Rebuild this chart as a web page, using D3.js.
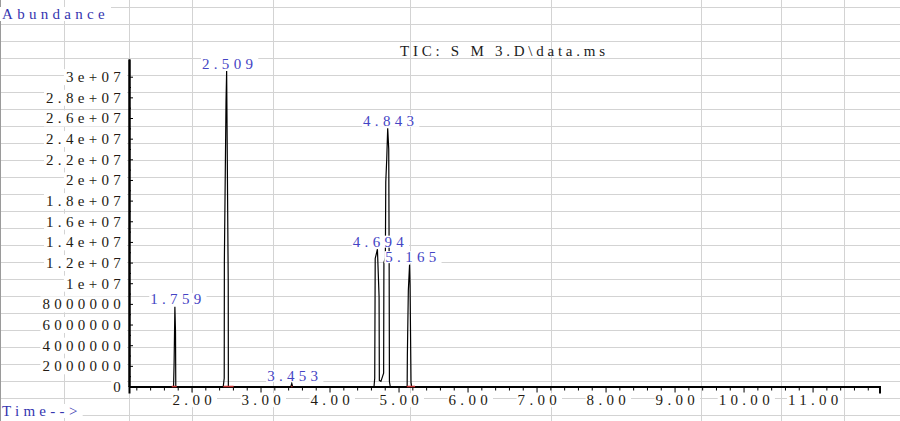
<!DOCTYPE html>
<html lang="en">
  <head>
    <meta charset="utf-8">
    <title>TIC chromatogram</title>
    <script src="https://cdn.jsdelivr.net/npm/d3@7"></script>
    <style>
      body { margin: 0; background: #fff; }
      svg#chart text {
        font-family: "Liberation Serif", "Times New Roman", Times, serif !important;
        font-size: 15px;
        letter-spacing: 4.3px;
      }
      .grid line { stroke: #d3d3d3; stroke-width: 1; }
      .axis path, .axis line { stroke: #000; }
      .axis path { stroke-width: 2; }
      .axis text { fill: #231a12; }
      .peak-label { fill: #4444c4; }
      .corner-label { fill: #3535b0; }
    </style>
  </head>
  <body>
    <svg id="chart" width="900" height="421" font-family="Liberation Serif"></svg>
    <script>
      // ---- data ----
      var traceTime = [1.094, 1.740, 1.748, 1.759, 1.768, 1.772,
                       2.460, 2.474, 2.476, 2.500, 2.509, 2.532, 2.534,
                       3.440, 3.453, 3.465,
                       4.645, 4.655, 4.662, 4.684, 4.694, 4.718, 4.722,
                       4.745, 4.784, 4.788, 4.809, 4.815, 4.829, 4.843, 4.858, 4.864, 4.868, 4.880,
                       5.125, 5.128, 5.142, 5.160, 5.167, 5.181, 5.190,
                       11.97];
      var traceAbund = [0, 0, 2400000, 7730000, 5300000, 0,
                        0, 800000, 12100000, 27600000, 30550000, 10000000, 0,
                        0, 300000, 0,
                        0, 800000, 12400000, 13000000, 13300000, 8700000, 600000,
                        500000, 1300000, 12000000, 12500000, 19800000, 22000000, 25000000, 23000000, 12000000, 460000, 0,
                        0, 3050000, 9300000, 11800000, 9800000, 400000, 0,
                        0];

      var peakTimes = [1.759, 2.509, 3.453, 4.694, 4.843, 5.165];
      var peakLabels = ["1.759", "2.509", "3.453", "4.694", "4.843", "5.165"];
      var integStart = [1.713, 2.460, 3.445, 5.120];
      var integEnd = [1.786, 2.610, 3.462, 5.240];

      var yTickValues = [0, 2000000, 4000000, 6000000, 8000000, 10000000, 12000000, 14000000,
                         16000000, 18000000, 20000000, 22000000, 24000000, 26000000, 28000000, 30000000];
      var yTickLabels = ["0", "2000000", "4000000", "6000000", "8000000", "1e+07", "1.2e+07", "1.4e+07",
                         "1.6e+07", "1.8e+07", "2e+07", "2.2e+07", "2.4e+07", "2.6e+07", "2.8e+07", "3e+07"];
      var xTickValues = [2, 3, 4, 5, 6, 7, 8, 9, 10, 11];
      var xTickLabels = ["2.00", "3.00", "4.00", "5.00", "6.00", "7.00", "8.00", "9.00", "10.00", "11.00"];

      var titleText = "TIC: S M 3.D\\data.ms";

      // ---- layout ----
      var width = 900, height = 421;
      var serif = "Liberation Serif";
      var svg = d3.select("#chart");

      var x = d3.scaleLinear().domain([1.094, 11.97]).range([129, 879.5]);
      var y = d3.scaleLinear().domain([0, 31714000]).range([386.5, 59]);

      // spreadsheet style grid in the background
      var gridCols = [64, 129, 192, 273, 410, 551, 701, 781, 844];
      var gridRows = d3.range(7.5, height, 17);
      var grid = svg.append("g").attr("class", "grid");
      grid.selectAll(".col").data(gridCols).enter().append("line")
          .attr("x1", function(d) { return d + 0.5; })
          .attr("x2", function(d) { return d + 0.5; })
          .attr("y1", 0).attr("y2", height);
      grid.selectAll(".row").data(gridRows).enter().append("line")
          .attr("x1", 0).attr("x2", width)
          .attr("y1", function(d) { return d; })
          .attr("y2", function(d) { return d; });
      svg.append("line")
          .attr("x1", 0.5).attr("x2", 0.5).attr("y1", 0).attr("y2", height)
          .attr("stroke", "#9a9a9a");

      // put a white box behind a text node
      function boxBehind(textNode, padX, padY) {
        var b = textNode.getBBox();
        d3.select(textNode.parentNode).insert("rect", function() { return textNode; })
            .attr("x", b.x - padX).attr("y", b.y - padY)
            .attr("width", b.width + 2 * padX).attr("height", b.height + 2 * padY)
            .attr("fill", "#fff");
      }

      // trace
      var points = traceTime.map(function(t, i) { return [t, traceAbund[i]]; });
      svg.append("path")
          .datum(points)
          .attr("fill", "none")
          .attr("stroke", "#000")
          .attr("stroke-width", 1.2)
          .attr("d", d3.line().x(function(d) { return x(d[0]); }).y(function(d) { return y(d[1]); }));

      // y axis: minor then major
      svg.append("g").attr("class", "axis")
          .attr("transform", "translate(129,0)")
          .call(d3.axisLeft(y).tickValues(d3.range(1000000, 31000000, 2000000))
                .tickSize(-2).tickSizeOuter(0).tickFormat(""));
      var yAxis = svg.append("g").attr("class", "axis")
          .attr("transform", "translate(129,0)")
          .call(d3.axisLeft(y).tickValues(yTickValues)
                .tickSize(-4).tickSizeOuter(0).tickPadding(4)
                .tickFormat(function(d, i) { return yTickLabels[i]; }));
      yAxis.attr("font-family", serif).attr("font-size", 15);
      yAxis.selectAll("text")
          .attr("dy", "0.33em")
          .each(function() { boxBehind(this, 2, 0); });

      // x axis: minor then major
      var minorX = d3.range(1.2, 11.9, 0.2).filter(function(d) { return Math.abs(d - Math.round(d)) > 0.01; });
      svg.append("g").attr("class", "axis")
          .attr("transform", "translate(0,386.5)")
          .call(d3.axisBottom(x).tickValues(minorX).tickSize(4).tickSizeOuter(7).tickFormat(""));
      var xAxis = svg.append("g").attr("class", "axis")
          .attr("transform", "translate(0,386.5)")
          .call(d3.axisBottom(x).tickValues(xTickValues)
                .tickSize(6).tickSizeOuter(7).tickPadding(2)
                .tickFormat(function(d, i) { return xTickLabels[i]; }));
      xAxis.attr("font-family", serif).attr("font-size", 15);
      xAxis.select(".domain").remove();
      xAxis.selectAll("text")
          .attr("dx", "0.15em")
          .each(function() { boxBehind(this, 1, -1); });

      // integration markers on the baseline
      svg.append("g").selectAll("line").data(integStart).enter().append("line")
          .attr("x1", function(d) { return x(d); })
          .attr("x2", function(d, i) { return x(integEnd[i]); })
          .attr("y1", 386.5).attr("y2", 386.5)
          .attr("stroke", "#c03030").attr("stroke-width", 1.5);

      // peak labels above each apex
      var labels = svg.append("g");
      peakTimes.forEach(function(t, i) {
        var apex = d3.max(points.filter(function(p) { return Math.abs(p[0] - t) < 0.03; }),
                          function(p) { return p[1]; });
        var txt = labels.append("text")
            .attr("class", "peak-label")
            .attr("font-family", serif)
            .attr("x", x(t) + 3)
            .attr("y", y(apex) - 2.5)
            .attr("text-anchor", "middle")
            .text(peakLabels[i]);
        boxBehind(txt.node(), 1, -2);
      });

      // title and corner labels
      svg.append("text")
          .attr("x", 400).attr("y", 56)
          .attr("fill", "#1c1c1c")
          .attr("font-family", serif)
          .style("letter-spacing", "3.75px")
          .text(titleText);

      var ab = svg.append("text").attr("class", "corner-label")
          .attr("font-family", serif)
          .attr("x", 2).attr("y", 19).text("Abundance");
      boxBehind(ab.node(), 2, -1);
      var tm = svg.append("text").attr("class", "corner-label")
          .attr("font-family", serif)
          .attr("x", 2).attr("y", 416).text("Time-->");
      boxBehind(tm.node(), 1, -1);
    </script>
  </body>
</html>
